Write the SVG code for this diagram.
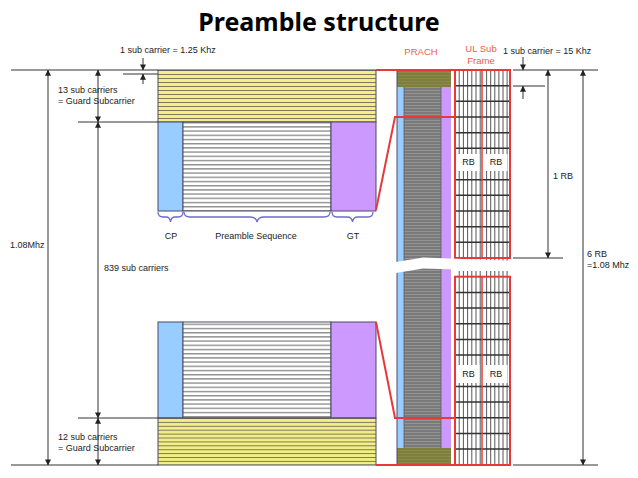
<svg xmlns="http://www.w3.org/2000/svg" width="638" height="478" viewBox="0 0 638 478">
<style>
.t{font-family:"Liberation Sans",Arial,sans-serif;font-size:9px;fill:#222}
.tc{text-anchor:middle}
.red{font-family:"Liberation Sans",Arial,sans-serif;font-size:9.5px;fill:#f0603c;text-anchor:middle}
.dim{stroke:#333;stroke-width:1;fill:none}
.da{stroke:#333;stroke-width:1;fill:none;marker-start:url(#ar);marker-end:url(#ar)}
.de{stroke:#333;stroke-width:1;fill:none;marker-end:url(#ar)}
.rl{stroke:#e8393a;stroke-width:2;fill:none}
.edge{stroke:#4a4a66;stroke-width:1}
.brace{stroke:#6b6bd0;stroke-width:1.3;fill:none}
.gv{stroke:#444;stroke-width:0.9}
.gh{stroke:#333;stroke-width:1.5}
</style>
<defs>
<marker id="ar" viewBox="0 0 8 8" refX="7.5" refY="4" markerWidth="6" markerHeight="6" orient="auto-start-reverse" markerUnits="userSpaceOnUse">
<path d="M0,0 L8,4 L0,8 z" fill="#222"/>
</marker>
<pattern id="yel" patternUnits="userSpaceOnUse" x="0" y="70" width="10" height="4">
<rect width="10" height="4" fill="#f3ee86"/>
<rect y="0" width="10" height="1" fill="#7c7a60"/>
</pattern>
<pattern id="yel2" patternUnits="userSpaceOnUse" x="0" y="418" width="10" height="3.9">
<rect width="10" height="3.9" fill="#f3ee86"/>
<rect y="0" width="10" height="1" fill="#7c7a60"/>
</pattern>
<pattern id="pre" patternUnits="userSpaceOnUse" x="0" y="122" width="10" height="4.2">
<rect width="10" height="4.2" fill="#ffffff"/>
<rect y="0" width="10" height="1.4" fill="#8e8e8e"/>
</pattern>
<pattern id="gry" patternUnits="userSpaceOnUse" x="0" y="0" width="10" height="3">
<rect width="10" height="3" fill="#7a7a7a"/>
<rect y="0" width="10" height="1" fill="#949494"/>
</pattern>
<pattern id="olv" patternUnits="userSpaceOnUse" x="0" y="0" width="10" height="3">
<rect width="10" height="3" fill="#7f7f3d"/>
<rect y="0" width="10" height="1" fill="#8a8a48"/>
</pattern>
</defs>

<text x="319" y="31" text-anchor="middle" font-family="'Noto Sans','DejaVu Sans',sans-serif" font-weight="bold" font-size="25" fill="#000">Preamble structure</text>

<g id="guard-top">
<rect x="158" y="70" width="218" height="52" fill="url(#yel)" stroke="#4a4a66" stroke-width="1"/>
</g>
<g id="upper-preamble">
<rect x="158" y="122" width="25" height="89" fill="#99ccff" stroke="#4a4a66" stroke-width="1"/>
<rect x="183" y="122" width="148" height="89" fill="url(#pre)" stroke="#4a4a66" stroke-width="1"/>
<rect x="331" y="122" width="45" height="89" fill="#cc99ff" stroke="#4a4a66" stroke-width="1"/>
</g>
<g id="lower-preamble">
<rect x="158" y="322" width="25" height="96" fill="#99ccff" stroke="#4a4a66" stroke-width="1"/>
<rect x="183" y="322" width="148" height="96" fill="url(#pre)" stroke="#4a4a66" stroke-width="1"/>
<rect x="331" y="322" width="45" height="96" fill="#cc99ff" stroke="#4a4a66" stroke-width="1"/>
</g>
<g id="guard-bottom">
<rect x="158" y="418" width="218" height="47" fill="url(#yel2)" stroke="#4a4a66" stroke-width="1"/>
</g>

<g id="braces">
<path class="brace" d="M158,212 q0,5 5,5 h3 q4,0 4.5,5 q0.5,-5 4.5,-5 h3 q5,0 5,-5"/>
<path class="brace" d="M184,212 q0,5 6,5 h60 q6,0 7,5 q1,-5 7,-5 h60 q6,0 6,-5"/>
<path class="brace" d="M332,212 q0,5 5,5 h10 q5,0 5.5,5 q0.5,-5 5.5,-5 h10 q5,0 5,-5"/>
<text class="t tc" x="171" y="239">CP</text>
<text class="t tc" x="256" y="239">Preamble Sequence</text>
<text class="t tc" x="353" y="239">GT</text>
</g>

<g id="prach">
<rect x="397" y="70" width="54" height="395" fill="url(#gry)"/>
<rect x="397" y="87" width="7" height="361" fill="#99ccff"/>
<rect x="441" y="87" width="10" height="361" fill="#cc99ff"/>
<rect x="397" y="70" width="54" height="17" fill="url(#olv)"/>
<rect x="397" y="448" width="54" height="17" fill="url(#olv)"/>
<line x1="397" y1="70" x2="397" y2="465" stroke="#4a4a66" stroke-width="1"/>
<line x1="404" y1="87" x2="404" y2="448" stroke="#5a5a6a" stroke-width="0.8"/>
<line x1="441" y1="87" x2="441" y2="448" stroke="#5a5a6a" stroke-width="0.8"/>
<text class="red" x="421" y="55">PRACH</text>
</g>

<g id="ul-subframe">
<path class="gv" d="M459.2,70V263M463.4,70V263M467.6,70V263M471.8,70V263M476,70V263M480.2,70V263M486.6,70V263M490.7,70V263M494.8,70V263M498.9,70V263M503,70V263M507.1,70V263"/>
<path class="gv" d="M459.2,271V465M463.4,271V465M467.6,271V465M471.8,271V465M476,271V465M480.2,271V465M486.6,271V465M490.7,271V465M494.8,271V465M498.9,271V465M503,271V465M507.1,271V465"/>
<path class="gh" d="M455,85.7H510M455,101.3H510M455,117H510M455,132.7H510M455,148.3H510M455,179.7H510M455,195.3H510M455,211H510M455,226.7H510M455,242.3H510"/>
<path class="gh" d="M455,292.4H510M455,308H510M455,323.7H510M455,339.4H510M455,355H510M455,386.4H510M455,402H510M455,417.7H510M455,433.4H510M455,449H510"/>
<rect x="457.5" y="154" width="22" height="17" fill="#fff"/>
<rect x="485" y="154" width="22.5" height="17" fill="#fff"/>
<rect x="457.5" y="365" width="22" height="18" fill="#fff"/>
<rect x="485" y="365" width="22.5" height="18" fill="#fff"/>
<text class="t tc" x="468.5" y="165">RB</text>
<text class="t tc" x="496" y="165">RB</text>
<text class="t tc" x="468.5" y="377">RB</text>
<text class="t tc" x="496" y="377">RB</text>
<rect x="455" y="70" width="55" height="188" fill="none" stroke="#e8393a" stroke-width="2"/>
<line x1="482" y1="70" x2="482" y2="258" stroke="#e8393a" stroke-width="1.5"/>
<rect x="455" y="276.7" width="55" height="188.3" fill="none" stroke="#e8393a" stroke-width="2"/>
<line x1="482" y1="276.7" x2="482" y2="465" stroke="#e8393a" stroke-width="1.5"/>
<text class="red" x="481" y="52">UL Sub</text>
<text class="red" x="481" y="64">Frame</text>
</g>

<g id="break">
<polygon points="390,263 423,257.5 514,261 514,271 423,268.5 390,274" fill="#fff"/>
</g>

<g id="connectors">
<path class="rl" d="M376,70H455"/>
<path class="rl" d="M376,210L395,117H455"/>
<path class="rl" d="M376,322L395,418H455"/>
<path class="rl" d="M376,465H455"/>

<path class="dim" d="M11,70H158M123,74H158M78,122H158M78,418H158M11,465H158"/>
<path class="da" d="M48,70V465"/>
<path class="da" d="M98,70V122"/>
<path class="da" d="M98,122V418"/>
<path class="da" d="M98,418V465"/>
<path class="de" d="M143,58V70"/>
<path class="de" d="M143,84V74"/>

<path class="dim" d="M513,70H598M513,86H545M513,258H563M513,465H598"/>
<path class="de" d="M523,57V70"/>
<path class="de" d="M523,99V86"/>
<path class="da" d="M548,70V258"/>
<path class="da" d="M583,70V465"/>
</g>

<g id="labels">
<text class="t" x="120" y="53">1 sub carrier = 1.25 Khz</text>
<text class="t" x="58" y="93">13 sub carriers</text>
<text class="t" x="58" y="104">= Guard Subcarrier</text>
<text class="t" x="10" y="248">1.08Mhz</text>
<text class="t" x="104" y="271">839 sub carriers</text>
<text class="t" x="58" y="440">12 sub carriers</text>
<text class="t" x="58" y="451">= Guard Subcarrier</text>
<text class="t" x="503" y="54">1 sub carrier = 15 Khz</text>
<text class="t" x="553" y="179">1 RB</text>
<text class="t" x="587" y="257">6 RB</text>
<text class="t" x="587" y="268">=1.08 Mhz</text>
</g>
</svg>
